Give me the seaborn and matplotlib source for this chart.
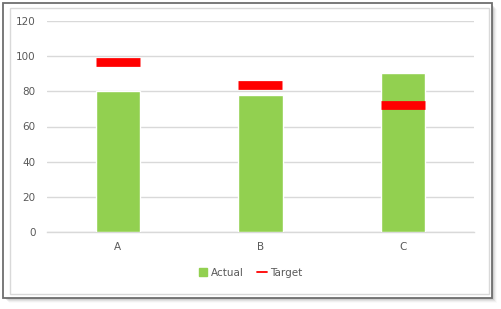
import numpy as np
import pandas as pd
import matplotlib
matplotlib.use("Agg")
import matplotlib.pyplot as plt
from matplotlib.patches import Rectangle
from matplotlib.lines import Line2D
import seaborn as sns

categories = ["A", "B", "C"]
actual = [80, 78, 90.5]
target = [96.5, 83.5, 72.5]
yticks = [0, 20, 40, 60, 80, 100, 120]

sns.set_theme(style="white")
plt.rcParams["font.family"] = ["DejaVu Sans"]

W, H = 502, 309
fig = plt.figure(figsize=(W / 100, H / 100), dpi=100)
fig.patch.set_facecolor("white")

# frame with shadow (figure pixel coords)
def px_rect(x0, y0, x1, y1, **kw):
    r = Rectangle((x0 / W, 1 - y1 / H), (x1 - x0) / W, (y1 - y0) / H,
                  transform=fig.transFigure, **kw)
    fig.patches.append(r)

for i, a in enumerate([0.10, 0.08, 0.06, 0.04, 0.02]):
    off = i + 1
    px_rect(3 + off + 1, 3 + off + 1, 492.5 + off, 297.5 + off,
            facecolor=(0, 0, 0, a), edgecolor="none", zorder=0)
px_rect(3, 3, 492.5, 297.5, facecolor="white", edgecolor="#6e6e6e", linewidth=1.3, zorder=1)
px_rect(9.5, 7.5, 489, 294, facecolor="none", edgecolor="#d9d9d9", linewidth=1.0, zorder=2)

left, right = 46.7 / W, 474.3 / W
bottom, top = 1 - 232 / H, 1 - 21 / H
ax = fig.add_axes([left, bottom, right - left, top - bottom], zorder=3)
ax.set_facecolor("none")

df = pd.DataFrame({"cat": categories, "actual": actual, "target": target})
sns.barplot(data=df, x="cat", y="actual", color="#92d050", saturation=1,
            width=0.31, ax=ax, zorder=3)

xpos = np.arange(len(categories))
ax.plot(xpos, df["target"], linestyle="none", marker="_", color="#ff0000",
        markersize=31.7, markeredgewidth=6.3, zorder=4)

ax.set_xlim(-0.5, 2.5)
ax.set_ylim(0, 120)
ax.set_yticks(yticks)
ax.set_yticklabels([str(v) for v in yticks])
ax.yaxis.grid(True, color="#d9d9d9", linewidth=1.0)
ax.set_axisbelow(True)
for s in ["left", "right", "top"]:
    ax.spines[s].set_visible(False)
ax.spines["bottom"].set_color("#d9d9d9")
ax.spines["bottom"].set_linewidth(1.0)
ax.tick_params(axis="both", length=0, labelsize=7.5, labelcolor="#595959")
ax.tick_params(axis="y", pad=8)
ax.tick_params(axis="x", pad=7)
ax.set_xlabel("")
ax.set_ylabel("")

handles = [
    Line2D([0], [0], marker="s", linestyle="none", color="#92d050", markersize=5.5),
    Line2D([0], [0], color="#ff0000", linewidth=1.3),
]
fig.legend(handles, ["Actual", "Target"], loc="center", bbox_to_anchor=(250 / W, 1 - 273 / H),
           ncol=2, frameon=False, fontsize=7.5, labelcolor="#595959",
           handlelength=1.0, handletextpad=0.3, columnspacing=1.2)

fig.savefig("out.png", dpi=100, facecolor="white")
